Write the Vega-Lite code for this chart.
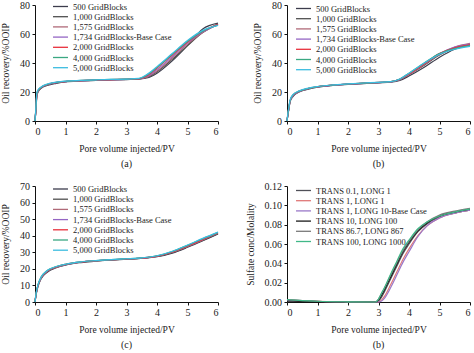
{
"$schema": "https://vega.github.io/schema/vega-lite/v6.json",
"background": "white",
"padding": {"left": 0, "top": 0, "right": 2, "bottom": 0},
"autosize": {"type": "pad"},
"columns": 2,
"spacing": {"row": 65, "column": 69},
"bounds": "flush",
"resolve": {"scale": {"color": "independent"}, "legend": {"color": "independent"}},
"config": {
  "view": {"stroke": null},
  "font": "Liberation Serif",
  "axis": {"labelFont": "Liberation Serif", "labelFontSize": 10, "labelColor": "#222", "titleFont": "Liberation Serif", "titleFontSize": 9.5, "titleFontWeight": "normal", "titleColor": "#222", "grid": false, "domainColor": "#111", "tickColor": "#111", "tickSize": 3, "labelPadding": 2.5},
  "axisX": {"titlePadding": 7},
  "axisY": {"titlePadding": 9},
  "legend": {"labelFont": "Liberation Serif", "labelFontSize": 8.5, "labelColor": "#222", "rowPadding": 1.2, "labelOffset": 8, "padding": 0, "symbolStrokeWidth": 1.3},
  "title": {"font": "Liberation Serif", "fontSize": 10, "fontWeight": "normal", "color": "#222", "orient": "bottom", "offset": 6, "anchor": "middle", "frame": "group"}
},
"datasets": {
"a": [
{"s":"500 GridBlocks","x":0,"y":0},{"s":"500 GridBlocks","x":0.03,"y":7},{"s":"500 GridBlocks","x":0.06,"y":17},{"s":"500 GridBlocks","x":0.1,"y":20},{"s":"500 GridBlocks","x":0.2,"y":22.5},{"s":"500 GridBlocks","x":0.4,"y":24.5},{"s":"500 GridBlocks","x":0.7,"y":26},{"s":"500 GridBlocks","x":1,"y":27},{"s":"500 GridBlocks","x":1.5,"y":27.6},{"s":"500 GridBlocks","x":2,"y":28},{"s":"500 GridBlocks","x":2.5,"y":28.3},{"s":"500 GridBlocks","x":3,"y":28.6},{"s":"500 GridBlocks","x":3.4,"y":28.9},{"s":"500 GridBlocks","x":3.7,"y":29.8},{"s":"500 GridBlocks","x":4,"y":33},{"s":"500 GridBlocks","x":4.5,"y":41.5},{"s":"500 GridBlocks","x":5,"y":52},{"s":"500 GridBlocks","x":5.5,"y":63.5},{"s":"500 GridBlocks","x":6,"y":67.5},
{"s":"1,000 GridBlocks","x":0,"y":0},{"s":"1,000 GridBlocks","x":0.03,"y":8},{"s":"1,000 GridBlocks","x":0.06,"y":18},{"s":"1,000 GridBlocks","x":0.1,"y":20.5},{"s":"1,000 GridBlocks","x":0.2,"y":23},{"s":"1,000 GridBlocks","x":0.4,"y":25},{"s":"1,000 GridBlocks","x":0.7,"y":26.5},{"s":"1,000 GridBlocks","x":1,"y":27.2},{"s":"1,000 GridBlocks","x":1.5,"y":27.8},{"s":"1,000 GridBlocks","x":2,"y":28.2},{"s":"1,000 GridBlocks","x":2.5,"y":28.5},{"s":"1,000 GridBlocks","x":3,"y":28.7},{"s":"1,000 GridBlocks","x":3.4,"y":29},{"s":"1,000 GridBlocks","x":3.7,"y":30.3},{"s":"1,000 GridBlocks","x":4,"y":34},{"s":"1,000 GridBlocks","x":4.5,"y":42.5},{"s":"1,000 GridBlocks","x":5,"y":52},{"s":"1,000 GridBlocks","x":5.5,"y":61},{"s":"1,000 GridBlocks","x":6,"y":67},
{"s":"1,575 GridBlocks","x":0,"y":0},{"s":"1,575 GridBlocks","x":0.03,"y":8},{"s":"1,575 GridBlocks","x":0.06,"y":18},{"s":"1,575 GridBlocks","x":0.1,"y":20.5},{"s":"1,575 GridBlocks","x":0.2,"y":23},{"s":"1,575 GridBlocks","x":0.4,"y":25},{"s":"1,575 GridBlocks","x":0.7,"y":26.5},{"s":"1,575 GridBlocks","x":1,"y":27.2},{"s":"1,575 GridBlocks","x":1.5,"y":27.8},{"s":"1,575 GridBlocks","x":2,"y":28.2},{"s":"1,575 GridBlocks","x":2.5,"y":28.5},{"s":"1,575 GridBlocks","x":3,"y":28.7},{"s":"1,575 GridBlocks","x":3.4,"y":29},{"s":"1,575 GridBlocks","x":3.7,"y":30.6},{"s":"1,575 GridBlocks","x":4,"y":34.5},{"s":"1,575 GridBlocks","x":4.5,"y":43.5},{"s":"1,575 GridBlocks","x":5,"y":53},{"s":"1,575 GridBlocks","x":5.5,"y":61},{"s":"1,575 GridBlocks","x":6,"y":66.5},
{"s":"1,734 GridBlocks-Base Case","x":0,"y":0},{"s":"1,734 GridBlocks-Base Case","x":0.03,"y":8},{"s":"1,734 GridBlocks-Base Case","x":0.06,"y":18},{"s":"1,734 GridBlocks-Base Case","x":0.1,"y":20.5},{"s":"1,734 GridBlocks-Base Case","x":0.2,"y":23},{"s":"1,734 GridBlocks-Base Case","x":0.4,"y":25},{"s":"1,734 GridBlocks-Base Case","x":0.7,"y":26.5},{"s":"1,734 GridBlocks-Base Case","x":1,"y":27.2},{"s":"1,734 GridBlocks-Base Case","x":1.5,"y":27.8},{"s":"1,734 GridBlocks-Base Case","x":2,"y":28.2},{"s":"1,734 GridBlocks-Base Case","x":2.5,"y":28.5},{"s":"1,734 GridBlocks-Base Case","x":3,"y":28.7},{"s":"1,734 GridBlocks-Base Case","x":3.4,"y":29},{"s":"1,734 GridBlocks-Base Case","x":3.7,"y":31},{"s":"1,734 GridBlocks-Base Case","x":4,"y":35.5},{"s":"1,734 GridBlocks-Base Case","x":4.5,"y":44.5},{"s":"1,734 GridBlocks-Base Case","x":5,"y":54},{"s":"1,734 GridBlocks-Base Case","x":5.5,"y":61.5},{"s":"1,734 GridBlocks-Base Case","x":6,"y":66.5},
{"s":"2,000 GridBlocks","x":0,"y":0},{"s":"2,000 GridBlocks","x":0.03,"y":8.5},{"s":"2,000 GridBlocks","x":0.06,"y":18.5},{"s":"2,000 GridBlocks","x":0.1,"y":21},{"s":"2,000 GridBlocks","x":0.2,"y":23.2},{"s":"2,000 GridBlocks","x":0.4,"y":25.2},{"s":"2,000 GridBlocks","x":0.7,"y":26.6},{"s":"2,000 GridBlocks","x":1,"y":27.3},{"s":"2,000 GridBlocks","x":1.5,"y":27.9},{"s":"2,000 GridBlocks","x":2,"y":28.3},{"s":"2,000 GridBlocks","x":2.5,"y":28.6},{"s":"2,000 GridBlocks","x":3,"y":28.8},{"s":"2,000 GridBlocks","x":3.4,"y":29.1},{"s":"2,000 GridBlocks","x":3.7,"y":31.5},{"s":"2,000 GridBlocks","x":4,"y":36.5},{"s":"2,000 GridBlocks","x":4.5,"y":45.5},{"s":"2,000 GridBlocks","x":5,"y":54.5},{"s":"2,000 GridBlocks","x":5.5,"y":62},{"s":"2,000 GridBlocks","x":6,"y":66.5},
{"s":"4,000 GridBlocks","x":0,"y":0},{"s":"4,000 GridBlocks","x":0.03,"y":9},{"s":"4,000 GridBlocks","x":0.06,"y":19},{"s":"4,000 GridBlocks","x":0.1,"y":21},{"s":"4,000 GridBlocks","x":0.2,"y":23.3},{"s":"4,000 GridBlocks","x":0.4,"y":25.3},{"s":"4,000 GridBlocks","x":0.7,"y":26.7},{"s":"4,000 GridBlocks","x":1,"y":27.4},{"s":"4,000 GridBlocks","x":1.5,"y":28},{"s":"4,000 GridBlocks","x":2,"y":28.4},{"s":"4,000 GridBlocks","x":2.5,"y":28.7},{"s":"4,000 GridBlocks","x":3,"y":28.9},{"s":"4,000 GridBlocks","x":3.4,"y":29.2},{"s":"4,000 GridBlocks","x":3.7,"y":32},{"s":"4,000 GridBlocks","x":4,"y":37},{"s":"4,000 GridBlocks","x":4.5,"y":46},{"s":"4,000 GridBlocks","x":5,"y":55},{"s":"4,000 GridBlocks","x":5.5,"y":62},{"s":"4,000 GridBlocks","x":6,"y":66},
{"s":"5,000 GridBlocks","x":0,"y":0},{"s":"5,000 GridBlocks","x":0.03,"y":9.5},{"s":"5,000 GridBlocks","x":0.06,"y":19.5},{"s":"5,000 GridBlocks","x":0.1,"y":21.5},{"s":"5,000 GridBlocks","x":0.2,"y":23.5},{"s":"5,000 GridBlocks","x":0.4,"y":25.5},{"s":"5,000 GridBlocks","x":0.7,"y":26.8},{"s":"5,000 GridBlocks","x":1,"y":27.5},{"s":"5,000 GridBlocks","x":1.5,"y":28},{"s":"5,000 GridBlocks","x":2,"y":28.4},{"s":"5,000 GridBlocks","x":2.5,"y":28.7},{"s":"5,000 GridBlocks","x":3,"y":28.9},{"s":"5,000 GridBlocks","x":3.4,"y":29.4},{"s":"5,000 GridBlocks","x":3.7,"y":32.5},{"s":"5,000 GridBlocks","x":4,"y":37.5},{"s":"5,000 GridBlocks","x":4.5,"y":46.5},{"s":"5,000 GridBlocks","x":5,"y":55.5},{"s":"5,000 GridBlocks","x":5.5,"y":62.5},{"s":"5,000 GridBlocks","x":6,"y":66}
],
"b": [
{"s":"500 GridBlocks","x":0,"y":0},{"s":"500 GridBlocks","x":0.03,"y":4},{"s":"500 GridBlocks","x":0.06,"y":8},{"s":"500 GridBlocks","x":0.1,"y":13},{"s":"500 GridBlocks","x":0.2,"y":17},{"s":"500 GridBlocks","x":0.4,"y":20},{"s":"500 GridBlocks","x":0.7,"y":22},{"s":"500 GridBlocks","x":1,"y":23.3},{"s":"500 GridBlocks","x":1.5,"y":24.5},{"s":"500 GridBlocks","x":2,"y":25.2},{"s":"500 GridBlocks","x":2.5,"y":25.8},{"s":"500 GridBlocks","x":3,"y":26.3},{"s":"500 GridBlocks","x":3.4,"y":26.8},{"s":"500 GridBlocks","x":3.7,"y":28},{"s":"500 GridBlocks","x":4,"y":31},{"s":"500 GridBlocks","x":4.5,"y":37},{"s":"500 GridBlocks","x":5,"y":44},{"s":"500 GridBlocks","x":5.5,"y":49.5},{"s":"500 GridBlocks","x":6,"y":52.5},
{"s":"1,000 GridBlocks","x":0,"y":0},{"s":"1,000 GridBlocks","x":0.03,"y":4.5},{"s":"1,000 GridBlocks","x":0.06,"y":8.5},{"s":"1,000 GridBlocks","x":0.1,"y":13.5},{"s":"1,000 GridBlocks","x":0.2,"y":17.5},{"s":"1,000 GridBlocks","x":0.4,"y":20.3},{"s":"1,000 GridBlocks","x":0.7,"y":22.3},{"s":"1,000 GridBlocks","x":1,"y":23.5},{"s":"1,000 GridBlocks","x":1.5,"y":24.7},{"s":"1,000 GridBlocks","x":2,"y":25.4},{"s":"1,000 GridBlocks","x":2.5,"y":26},{"s":"1,000 GridBlocks","x":3,"y":26.5},{"s":"1,000 GridBlocks","x":3.4,"y":27},{"s":"1,000 GridBlocks","x":3.7,"y":28.5},{"s":"1,000 GridBlocks","x":4,"y":32},{"s":"1,000 GridBlocks","x":4.5,"y":38.5},{"s":"1,000 GridBlocks","x":5,"y":45.5},{"s":"1,000 GridBlocks","x":5.5,"y":50.5},{"s":"1,000 GridBlocks","x":6,"y":53},
{"s":"1,575 GridBlocks","x":0,"y":0},{"s":"1,575 GridBlocks","x":0.03,"y":4.5},{"s":"1,575 GridBlocks","x":0.06,"y":8.5},{"s":"1,575 GridBlocks","x":0.1,"y":13.5},{"s":"1,575 GridBlocks","x":0.2,"y":17.5},{"s":"1,575 GridBlocks","x":0.4,"y":20.3},{"s":"1,575 GridBlocks","x":0.7,"y":22.3},{"s":"1,575 GridBlocks","x":1,"y":23.5},{"s":"1,575 GridBlocks","x":1.5,"y":24.7},{"s":"1,575 GridBlocks","x":2,"y":25.4},{"s":"1,575 GridBlocks","x":2.5,"y":26},{"s":"1,575 GridBlocks","x":3,"y":26.5},{"s":"1,575 GridBlocks","x":3.4,"y":27},{"s":"1,575 GridBlocks","x":3.7,"y":28.5},{"s":"1,575 GridBlocks","x":4,"y":32},{"s":"1,575 GridBlocks","x":4.5,"y":39},{"s":"1,575 GridBlocks","x":5,"y":46},{"s":"1,575 GridBlocks","x":5.5,"y":51},{"s":"1,575 GridBlocks","x":6,"y":53.5},
{"s":"1,734 GridBlocks-Base Case","x":0,"y":0},{"s":"1,734 GridBlocks-Base Case","x":0.03,"y":4.5},{"s":"1,734 GridBlocks-Base Case","x":0.06,"y":8.5},{"s":"1,734 GridBlocks-Base Case","x":0.1,"y":13.5},{"s":"1,734 GridBlocks-Base Case","x":0.2,"y":17.5},{"s":"1,734 GridBlocks-Base Case","x":0.4,"y":20.3},{"s":"1,734 GridBlocks-Base Case","x":0.7,"y":22.3},{"s":"1,734 GridBlocks-Base Case","x":1,"y":23.5},{"s":"1,734 GridBlocks-Base Case","x":1.5,"y":24.7},{"s":"1,734 GridBlocks-Base Case","x":2,"y":25.4},{"s":"1,734 GridBlocks-Base Case","x":2.5,"y":26},{"s":"1,734 GridBlocks-Base Case","x":3,"y":26.5},{"s":"1,734 GridBlocks-Base Case","x":3.4,"y":27},{"s":"1,734 GridBlocks-Base Case","x":3.7,"y":28.7},{"s":"1,734 GridBlocks-Base Case","x":4,"y":32.5},{"s":"1,734 GridBlocks-Base Case","x":4.5,"y":39.5},{"s":"1,734 GridBlocks-Base Case","x":5,"y":46.5},{"s":"1,734 GridBlocks-Base Case","x":5.5,"y":51},{"s":"1,734 GridBlocks-Base Case","x":6,"y":53},
{"s":"2,000 GridBlocks","x":0,"y":0},{"s":"2,000 GridBlocks","x":0.03,"y":5},{"s":"2,000 GridBlocks","x":0.06,"y":9},{"s":"2,000 GridBlocks","x":0.1,"y":14},{"s":"2,000 GridBlocks","x":0.2,"y":18},{"s":"2,000 GridBlocks","x":0.4,"y":20.6},{"s":"2,000 GridBlocks","x":0.7,"y":22.5},{"s":"2,000 GridBlocks","x":1,"y":23.7},{"s":"2,000 GridBlocks","x":1.5,"y":24.8},{"s":"2,000 GridBlocks","x":2,"y":25.5},{"s":"2,000 GridBlocks","x":2.5,"y":26.1},{"s":"2,000 GridBlocks","x":3,"y":26.6},{"s":"2,000 GridBlocks","x":3.4,"y":27.1},{"s":"2,000 GridBlocks","x":3.7,"y":28.8},{"s":"2,000 GridBlocks","x":4,"y":32.5},{"s":"2,000 GridBlocks","x":4.5,"y":39.5},{"s":"2,000 GridBlocks","x":5,"y":46.5},{"s":"2,000 GridBlocks","x":5.5,"y":50.5},{"s":"2,000 GridBlocks","x":6,"y":52.5},
{"s":"4,000 GridBlocks","x":0,"y":0},{"s":"4,000 GridBlocks","x":0.03,"y":5},{"s":"4,000 GridBlocks","x":0.06,"y":9},{"s":"4,000 GridBlocks","x":0.1,"y":14},{"s":"4,000 GridBlocks","x":0.2,"y":18},{"s":"4,000 GridBlocks","x":0.4,"y":20.6},{"s":"4,000 GridBlocks","x":0.7,"y":22.5},{"s":"4,000 GridBlocks","x":1,"y":23.7},{"s":"4,000 GridBlocks","x":1.5,"y":24.8},{"s":"4,000 GridBlocks","x":2,"y":25.5},{"s":"4,000 GridBlocks","x":2.5,"y":26.1},{"s":"4,000 GridBlocks","x":3,"y":26.6},{"s":"4,000 GridBlocks","x":3.4,"y":27.1},{"s":"4,000 GridBlocks","x":3.7,"y":29},{"s":"4,000 GridBlocks","x":4,"y":33},{"s":"4,000 GridBlocks","x":4.5,"y":40},{"s":"4,000 GridBlocks","x":5,"y":46.5},{"s":"4,000 GridBlocks","x":5.5,"y":50},{"s":"4,000 GridBlocks","x":6,"y":52},
{"s":"5,000 GridBlocks","x":0,"y":0},{"s":"5,000 GridBlocks","x":0.03,"y":5.5},{"s":"5,000 GridBlocks","x":0.06,"y":9.5},{"s":"5,000 GridBlocks","x":0.1,"y":14.5},{"s":"5,000 GridBlocks","x":0.2,"y":18.3},{"s":"5,000 GridBlocks","x":0.4,"y":20.8},{"s":"5,000 GridBlocks","x":0.7,"y":22.7},{"s":"5,000 GridBlocks","x":1,"y":23.8},{"s":"5,000 GridBlocks","x":1.5,"y":24.9},{"s":"5,000 GridBlocks","x":2,"y":25.6},{"s":"5,000 GridBlocks","x":2.5,"y":26.2},{"s":"5,000 GridBlocks","x":3,"y":26.7},{"s":"5,000 GridBlocks","x":3.4,"y":27.2},{"s":"5,000 GridBlocks","x":3.7,"y":29},{"s":"5,000 GridBlocks","x":4,"y":33},{"s":"5,000 GridBlocks","x":4.5,"y":40},{"s":"5,000 GridBlocks","x":5,"y":46},{"s":"5,000 GridBlocks","x":5.5,"y":49.5},{"s":"5,000 GridBlocks","x":6,"y":51.5}
],
"c": [
{"s":"500 GridBlocks","x":0,"y":0},{"s":"500 GridBlocks","x":0.03,"y":3.5},{"s":"500 GridBlocks","x":0.06,"y":6.5},{"s":"500 GridBlocks","x":0.1,"y":9.5},{"s":"500 GridBlocks","x":0.2,"y":14},{"s":"500 GridBlocks","x":0.4,"y":18},{"s":"500 GridBlocks","x":0.7,"y":20.7},{"s":"500 GridBlocks","x":1,"y":22.3},{"s":"500 GridBlocks","x":1.5,"y":23.8},{"s":"500 GridBlocks","x":2,"y":24.7},{"s":"500 GridBlocks","x":2.5,"y":25.3},{"s":"500 GridBlocks","x":3,"y":25.8},{"s":"500 GridBlocks","x":3.4,"y":26.2},{"s":"500 GridBlocks","x":3.7,"y":26.6},{"s":"500 GridBlocks","x":4,"y":27.3},{"s":"500 GridBlocks","x":4.5,"y":29.5},{"s":"500 GridBlocks","x":5,"y":33},{"s":"500 GridBlocks","x":5.5,"y":37},{"s":"500 GridBlocks","x":6,"y":41},
{"s":"1,000 GridBlocks","x":0,"y":0},{"s":"1,000 GridBlocks","x":0.03,"y":4},{"s":"1,000 GridBlocks","x":0.06,"y":7},{"s":"1,000 GridBlocks","x":0.1,"y":10},{"s":"1,000 GridBlocks","x":0.2,"y":14.5},{"s":"1,000 GridBlocks","x":0.4,"y":18.5},{"s":"1,000 GridBlocks","x":0.7,"y":21},{"s":"1,000 GridBlocks","x":1,"y":22.5},{"s":"1,000 GridBlocks","x":1.5,"y":24},{"s":"1,000 GridBlocks","x":2,"y":24.8},{"s":"1,000 GridBlocks","x":2.5,"y":25.4},{"s":"1,000 GridBlocks","x":3,"y":25.9},{"s":"1,000 GridBlocks","x":3.4,"y":26.3},{"s":"1,000 GridBlocks","x":3.7,"y":26.8},{"s":"1,000 GridBlocks","x":4,"y":27.5},{"s":"1,000 GridBlocks","x":4.5,"y":29.8},{"s":"1,000 GridBlocks","x":5,"y":33.3},{"s":"1,000 GridBlocks","x":5.5,"y":37.2},{"s":"1,000 GridBlocks","x":6,"y":41.2},
{"s":"1,575 GridBlocks","x":0,"y":0},{"s":"1,575 GridBlocks","x":0.03,"y":4},{"s":"1,575 GridBlocks","x":0.06,"y":7},{"s":"1,575 GridBlocks","x":0.1,"y":10},{"s":"1,575 GridBlocks","x":0.2,"y":14.5},{"s":"1,575 GridBlocks","x":0.4,"y":18.5},{"s":"1,575 GridBlocks","x":0.7,"y":21},{"s":"1,575 GridBlocks","x":1,"y":22.5},{"s":"1,575 GridBlocks","x":1.5,"y":24},{"s":"1,575 GridBlocks","x":2,"y":24.8},{"s":"1,575 GridBlocks","x":2.5,"y":25.4},{"s":"1,575 GridBlocks","x":3,"y":25.9},{"s":"1,575 GridBlocks","x":3.4,"y":26.3},{"s":"1,575 GridBlocks","x":3.7,"y":26.8},{"s":"1,575 GridBlocks","x":4,"y":27.6},{"s":"1,575 GridBlocks","x":4.5,"y":30},{"s":"1,575 GridBlocks","x":5,"y":33.5},{"s":"1,575 GridBlocks","x":5.5,"y":37.5},{"s":"1,575 GridBlocks","x":6,"y":41.5},
{"s":"1,734 GridBlocks-Base Case","x":0,"y":0},{"s":"1,734 GridBlocks-Base Case","x":0.03,"y":4},{"s":"1,734 GridBlocks-Base Case","x":0.06,"y":7},{"s":"1,734 GridBlocks-Base Case","x":0.1,"y":10},{"s":"1,734 GridBlocks-Base Case","x":0.2,"y":14.5},{"s":"1,734 GridBlocks-Base Case","x":0.4,"y":18.6},{"s":"1,734 GridBlocks-Base Case","x":0.7,"y":21.1},{"s":"1,734 GridBlocks-Base Case","x":1,"y":22.6},{"s":"1,734 GridBlocks-Base Case","x":1.5,"y":24.1},{"s":"1,734 GridBlocks-Base Case","x":2,"y":24.9},{"s":"1,734 GridBlocks-Base Case","x":2.5,"y":25.5},{"s":"1,734 GridBlocks-Base Case","x":3,"y":26},{"s":"1,734 GridBlocks-Base Case","x":3.4,"y":26.4},{"s":"1,734 GridBlocks-Base Case","x":3.7,"y":26.9},{"s":"1,734 GridBlocks-Base Case","x":4,"y":27.7},{"s":"1,734 GridBlocks-Base Case","x":4.5,"y":30.2},{"s":"1,734 GridBlocks-Base Case","x":5,"y":33.8},{"s":"1,734 GridBlocks-Base Case","x":5.5,"y":37.8},{"s":"1,734 GridBlocks-Base Case","x":6,"y":41.8},
{"s":"2,000 GridBlocks","x":0,"y":0},{"s":"2,000 GridBlocks","x":0.03,"y":4.2},{"s":"2,000 GridBlocks","x":0.06,"y":7.2},{"s":"2,000 GridBlocks","x":0.1,"y":10.2},{"s":"2,000 GridBlocks","x":0.2,"y":14.7},{"s":"2,000 GridBlocks","x":0.4,"y":18.7},{"s":"2,000 GridBlocks","x":0.7,"y":21.2},{"s":"2,000 GridBlocks","x":1,"y":22.7},{"s":"2,000 GridBlocks","x":1.5,"y":24.1},{"s":"2,000 GridBlocks","x":2,"y":24.9},{"s":"2,000 GridBlocks","x":2.5,"y":25.5},{"s":"2,000 GridBlocks","x":3,"y":26},{"s":"2,000 GridBlocks","x":3.4,"y":26.4},{"s":"2,000 GridBlocks","x":3.7,"y":26.9},{"s":"2,000 GridBlocks","x":4,"y":27.7},{"s":"2,000 GridBlocks","x":4.5,"y":30.2},{"s":"2,000 GridBlocks","x":5,"y":33.8},{"s":"2,000 GridBlocks","x":5.5,"y":37.8},{"s":"2,000 GridBlocks","x":6,"y":41.8},
{"s":"4,000 GridBlocks","x":0,"y":0},{"s":"4,000 GridBlocks","x":0.03,"y":4.5},{"s":"4,000 GridBlocks","x":0.06,"y":7.5},{"s":"4,000 GridBlocks","x":0.1,"y":10.5},{"s":"4,000 GridBlocks","x":0.2,"y":15},{"s":"4,000 GridBlocks","x":0.4,"y":19},{"s":"4,000 GridBlocks","x":0.7,"y":21.4},{"s":"4,000 GridBlocks","x":1,"y":22.8},{"s":"4,000 GridBlocks","x":1.5,"y":24.2},{"s":"4,000 GridBlocks","x":2,"y":25},{"s":"4,000 GridBlocks","x":2.5,"y":25.6},{"s":"4,000 GridBlocks","x":3,"y":26.1},{"s":"4,000 GridBlocks","x":3.4,"y":26.5},{"s":"4,000 GridBlocks","x":3.7,"y":27},{"s":"4,000 GridBlocks","x":4,"y":27.9},{"s":"4,000 GridBlocks","x":4.5,"y":30.5},{"s":"4,000 GridBlocks","x":5,"y":34.2},{"s":"4,000 GridBlocks","x":5.5,"y":38.2},{"s":"4,000 GridBlocks","x":6,"y":42},
{"s":"5,000 GridBlocks","x":0,"y":0},{"s":"5,000 GridBlocks","x":0.03,"y":4.5},{"s":"5,000 GridBlocks","x":0.06,"y":7.5},{"s":"5,000 GridBlocks","x":0.1,"y":10.5},{"s":"5,000 GridBlocks","x":0.2,"y":15},{"s":"5,000 GridBlocks","x":0.4,"y":19},{"s":"5,000 GridBlocks","x":0.7,"y":21.4},{"s":"5,000 GridBlocks","x":1,"y":22.8},{"s":"5,000 GridBlocks","x":1.5,"y":24.2},{"s":"5,000 GridBlocks","x":2,"y":25},{"s":"5,000 GridBlocks","x":2.5,"y":25.6},{"s":"5,000 GridBlocks","x":3,"y":26.1},{"s":"5,000 GridBlocks","x":3.4,"y":26.5},{"s":"5,000 GridBlocks","x":3.7,"y":27},{"s":"5,000 GridBlocks","x":4,"y":27.9},{"s":"5,000 GridBlocks","x":4.5,"y":30.6},{"s":"5,000 GridBlocks","x":5,"y":34.4},{"s":"5,000 GridBlocks","x":5.5,"y":38.4},{"s":"5,000 GridBlocks","x":6,"y":42.2}
],
"d": [
{"s":"TRANS 0.1, LONG 1","x":0,"y":0.0025},{"s":"TRANS 0.1, LONG 1","x":0.5,"y":0.0015},{"s":"TRANS 0.1, LONG 1","x":1,"y":0.0008},{"s":"TRANS 0.1, LONG 1","x":2,"y":0.0002},{"s":"TRANS 0.1, LONG 1","x":2.9,"y":0},{"s":"TRANS 0.1, LONG 1","x":3,"y":0.001},{"s":"TRANS 0.1, LONG 1","x":3.1,"y":0.005},{"s":"TRANS 0.1, LONG 1","x":3.2,"y":0.011},{"s":"TRANS 0.1, LONG 1","x":3.4,"y":0.024},{"s":"TRANS 0.1, LONG 1","x":3.6,"y":0.037},{"s":"TRANS 0.1, LONG 1","x":3.8,"y":0.05},{"s":"TRANS 0.1, LONG 1","x":4,"y":0.06},{"s":"TRANS 0.1, LONG 1","x":4.3,"y":0.073},{"s":"TRANS 0.1, LONG 1","x":4.6,"y":0.081},{"s":"TRANS 0.1, LONG 1","x":5,"y":0.088},{"s":"TRANS 0.1, LONG 1","x":5.5,"y":0.092},{"s":"TRANS 0.1, LONG 1","x":6,"y":0.095},
{"s":"TRANS 1, LONG 1","x":0,"y":0.002},{"s":"TRANS 1, LONG 1","x":0.5,"y":0.0012},{"s":"TRANS 1, LONG 1","x":1,"y":0.0006},{"s":"TRANS 1, LONG 1","x":2,"y":0.0002},{"s":"TRANS 1, LONG 1","x":2.9,"y":0},{"s":"TRANS 1, LONG 1","x":3,"y":0},{"s":"TRANS 1, LONG 1","x":3.1,"y":0.002},{"s":"TRANS 1, LONG 1","x":3.2,"y":0.006},{"s":"TRANS 1, LONG 1","x":3.4,"y":0.018},{"s":"TRANS 1, LONG 1","x":3.6,"y":0.031},{"s":"TRANS 1, LONG 1","x":3.8,"y":0.044},{"s":"TRANS 1, LONG 1","x":4,"y":0.055},{"s":"TRANS 1, LONG 1","x":4.3,"y":0.069},{"s":"TRANS 1, LONG 1","x":4.6,"y":0.079},{"s":"TRANS 1, LONG 1","x":5,"y":0.087},{"s":"TRANS 1, LONG 1","x":5.5,"y":0.092},{"s":"TRANS 1, LONG 1","x":6,"y":0.095},
{"s":"TRANS 1, LONG 10-Base Case","x":0,"y":0.0015},{"s":"TRANS 1, LONG 10-Base Case","x":0.5,"y":0.001},{"s":"TRANS 1, LONG 10-Base Case","x":1,"y":0.0005},{"s":"TRANS 1, LONG 10-Base Case","x":2,"y":0.0001},{"s":"TRANS 1, LONG 10-Base Case","x":2.9,"y":0},{"s":"TRANS 1, LONG 10-Base Case","x":3,"y":0},{"s":"TRANS 1, LONG 10-Base Case","x":3.1,"y":0.001},{"s":"TRANS 1, LONG 10-Base Case","x":3.2,"y":0.004},{"s":"TRANS 1, LONG 10-Base Case","x":3.4,"y":0.015},{"s":"TRANS 1, LONG 10-Base Case","x":3.6,"y":0.028},{"s":"TRANS 1, LONG 10-Base Case","x":3.8,"y":0.041},{"s":"TRANS 1, LONG 10-Base Case","x":4,"y":0.052},{"s":"TRANS 1, LONG 10-Base Case","x":4.3,"y":0.068},{"s":"TRANS 1, LONG 10-Base Case","x":4.6,"y":0.079},{"s":"TRANS 1, LONG 10-Base Case","x":5,"y":0.087},{"s":"TRANS 1, LONG 10-Base Case","x":5.5,"y":0.092},{"s":"TRANS 1, LONG 10-Base Case","x":6,"y":0.095},
{"s":"TRANS 10, LONG 100","x":0,"y":0.001},{"s":"TRANS 10, LONG 100","x":0.5,"y":0.0006},{"s":"TRANS 10, LONG 100","x":1,"y":0.0003},{"s":"TRANS 10, LONG 100","x":2,"y":0.0001},{"s":"TRANS 10, LONG 100","x":2.9,"y":0},{"s":"TRANS 10, LONG 100","x":3,"y":0.002},{"s":"TRANS 10, LONG 100","x":3.1,"y":0.007},{"s":"TRANS 10, LONG 100","x":3.2,"y":0.013},{"s":"TRANS 10, LONG 100","x":3.4,"y":0.026},{"s":"TRANS 10, LONG 100","x":3.6,"y":0.039},{"s":"TRANS 10, LONG 100","x":3.8,"y":0.052},{"s":"TRANS 10, LONG 100","x":4,"y":0.062},{"s":"TRANS 10, LONG 100","x":4.3,"y":0.074},{"s":"TRANS 10, LONG 100","x":4.6,"y":0.082},{"s":"TRANS 10, LONG 100","x":5,"y":0.089},{"s":"TRANS 10, LONG 100","x":5.5,"y":0.093},{"s":"TRANS 10, LONG 100","x":6,"y":0.096},
{"s":"TRANS 86.7, LONG 867","x":0,"y":0.0025},{"s":"TRANS 86.7, LONG 867","x":0.5,"y":0.0015},{"s":"TRANS 86.7, LONG 867","x":1,"y":0.0008},{"s":"TRANS 86.7, LONG 867","x":2,"y":0.0002},{"s":"TRANS 86.7, LONG 867","x":2.9,"y":0},{"s":"TRANS 86.7, LONG 867","x":3,"y":0.003},{"s":"TRANS 86.7, LONG 867","x":3.1,"y":0.009},{"s":"TRANS 86.7, LONG 867","x":3.2,"y":0.015},{"s":"TRANS 86.7, LONG 867","x":3.4,"y":0.028},{"s":"TRANS 86.7, LONG 867","x":3.6,"y":0.041},{"s":"TRANS 86.7, LONG 867","x":3.8,"y":0.053},{"s":"TRANS 86.7, LONG 867","x":4,"y":0.063},{"s":"TRANS 86.7, LONG 867","x":4.3,"y":0.075},{"s":"TRANS 86.7, LONG 867","x":4.6,"y":0.083},{"s":"TRANS 86.7, LONG 867","x":5,"y":0.09},{"s":"TRANS 86.7, LONG 867","x":5.5,"y":0.094},{"s":"TRANS 86.7, LONG 867","x":6,"y":0.097},
{"s":"TRANS 100, LONG 1000","x":0,"y":0.0025},{"s":"TRANS 100, LONG 1000","x":0.5,"y":0.0015},{"s":"TRANS 100, LONG 1000","x":1,"y":0.0008},{"s":"TRANS 100, LONG 1000","x":2,"y":0.0002},{"s":"TRANS 100, LONG 1000","x":2.9,"y":0},{"s":"TRANS 100, LONG 1000","x":3,"y":0.003},{"s":"TRANS 100, LONG 1000","x":3.1,"y":0.009},{"s":"TRANS 100, LONG 1000","x":3.2,"y":0.015},{"s":"TRANS 100, LONG 1000","x":3.4,"y":0.029},{"s":"TRANS 100, LONG 1000","x":3.6,"y":0.042},{"s":"TRANS 100, LONG 1000","x":3.8,"y":0.055},{"s":"TRANS 100, LONG 1000","x":4,"y":0.064},{"s":"TRANS 100, LONG 1000","x":4.3,"y":0.076},{"s":"TRANS 100, LONG 1000","x":4.6,"y":0.083},{"s":"TRANS 100, LONG 1000","x":5,"y":0.089},{"s":"TRANS 100, LONG 1000","x":5.5,"y":0.093},{"s":"TRANS 100, LONG 1000","x":6,"y":0.096}
]
},
"concat": [
{
 "width": 183, "height": 116,
 "title": {"text": "(a)"},
 "data": {"name": "a"},
 "mark": {"type": "line", "interpolate": "monotone", "strokeWidth": 1.2},
 "encoding": {
  "x": {"field": "x", "type": "quantitative", "scale": {"domain": [0, 6], "nice": false}, "axis": {"values": [0,1,2,3,4,5,6], "title": "Pore volume injected/PV"}},
  "y": {"field": "y", "type": "quantitative", "scale": {"domain": [0, 80], "nice": false}, "axis": {"values": [0,20,40,60,80], "title": "Oil recovery/%OOIP"}},
  "color": {"field": "s", "type": "nominal", "scale": {"domain": ["500 GridBlocks","1,000 GridBlocks","1,575 GridBlocks","1,734 GridBlocks-Base Case","2,000 GridBlocks","4,000 GridBlocks","5,000 GridBlocks"], "range": ["#3c3c4c","#505050","#b06a78","#9466c4","#e8303c","#3aa882","#3cbce0"]}, "legend": {"title": null, "orient": "none", "legendX": 21, "legendY": -3, "symbolType": "M-2,0L2,0", "symbolSize": 56}}
 }
},
{
 "width": 183, "height": 116,
 "title": {"text": "(b)"},
 "data": {"name": "b"},
 "mark": {"type": "line", "interpolate": "monotone", "strokeWidth": 1.2},
 "encoding": {
  "x": {"field": "x", "type": "quantitative", "scale": {"domain": [0, 6], "nice": false}, "axis": {"values": [0,1,2,3,4,5,6], "title": "Pore volume injected/PV"}},
  "y": {"field": "y", "type": "quantitative", "scale": {"domain": [0, 80], "nice": false}, "axis": {"values": [0,20,40,60,80], "title": "Oil recovery/%OOIP"}},
  "color": {"field": "s", "type": "nominal", "scale": {"domain": ["500 GridBlocks","1,000 GridBlocks","1,575 GridBlocks","1,734 GridBlocks-Base Case","2,000 GridBlocks","4,000 GridBlocks","5,000 GridBlocks"], "range": ["#3c3c4c","#505050","#b06a78","#9466c4","#e8303c","#3aa882","#3cbce0"]}, "legend": {"title": null, "orient": "none", "legendX": 12, "legendY": -1, "symbolType": "M-2,0L2,0", "symbolSize": 56}}
 }
},
{
 "width": 183, "height": 116,
 "title": {"text": "(c)"},
 "data": {"name": "c"},
 "mark": {"type": "line", "interpolate": "monotone", "strokeWidth": 1.2},
 "encoding": {
  "x": {"field": "x", "type": "quantitative", "scale": {"domain": [0, 6], "nice": false}, "axis": {"values": [0,1,2,3,4,5,6], "title": "Pore volume injected/PV"}},
  "y": {"field": "y", "type": "quantitative", "scale": {"domain": [0, 70], "nice": false}, "axis": {"values": [0,10,20,30,40,50,60,70], "title": "Oil recovery/%OOIP"}},
  "color": {"field": "s", "type": "nominal", "scale": {"domain": ["500 GridBlocks","1,000 GridBlocks","1,575 GridBlocks","1,734 GridBlocks-Base Case","2,000 GridBlocks","4,000 GridBlocks","5,000 GridBlocks"], "range": ["#3c3c4c","#505050","#b06a78","#9466c4","#e8303c","#3aa882","#3cbce0"]}, "legend": {"title": null, "orient": "none", "legendX": 21, "legendY": -1.5, "symbolType": "M-2,0L2,0", "symbolSize": 56}}
 }
},
{
 "width": 183, "height": 116,
 "title": {"text": "(b)"},
 "data": {"name": "d"},
 "mark": {"type": "line", "interpolate": "monotone", "strokeWidth": 1.2},
 "encoding": {
  "x": {"field": "x", "type": "quantitative", "scale": {"domain": [0, 6], "nice": false}, "axis": {"values": [0,1,2,3,4,5,6], "title": "Pore volume injected/PV"}},
  "y": {"field": "y", "type": "quantitative", "scale": {"domain": [0, 0.12], "nice": false}, "axis": {"values": [0,0.02,0.04,0.06,0.08,0.1,0.12], "format": ".2f", "title": "Sulfate conc/Molality"}},
  "color": {"field": "s", "type": "nominal", "scale": {"domain": ["TRANS 0.1, LONG 1","TRANS 1, LONG 1","TRANS 1, LONG 10-Base Case","TRANS 10, LONG 100","TRANS 86.7, LONG 867","TRANS 100, LONG 1000"], "range": ["#505058","#e07878","#9a78c8","#1a1a1a","#7a7a7a","#40b888"]}, "legend": {"title": null, "orient": "none", "legendX": 12, "legendY": 0, "symbolType": "M-2,0L2,0", "symbolSize": 56}}
 }
}
]
}
